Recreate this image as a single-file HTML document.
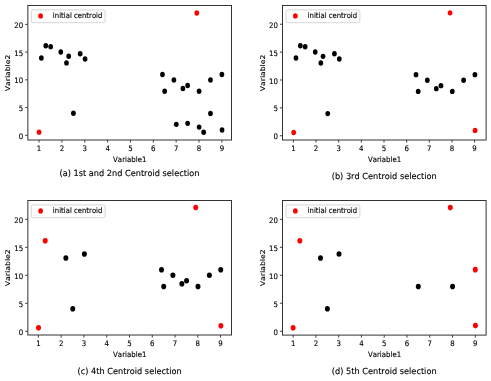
<!DOCTYPE html>
<html><head><meta charset="utf-8"><style>
html,body{margin:0;padding:0;background:#fff;}
body{width:491px;height:381px;overflow:hidden;}
svg{display:block;font-kerning:none;text-rendering:geometricPrecision;filter:blur(0.3px);}
.t{stroke:#000;stroke-width:0.75;}
.fr{fill:none;stroke:#333;stroke-width:1;}
.tl{font-family:"DejaVu Sans",sans-serif;font-size:7.0px;fill:#000;stroke:#000;stroke-width:0.12px;}
.vl{font-family:"DejaVu Sans",sans-serif;font-size:6.6px;fill:#000;stroke:#000;stroke-width:0.12px;}
.cap{font-family:"DejaVu Sans",sans-serif;font-size:8.2px;fill:#000;stroke:#000;stroke-width:0.12px;}
</style></head><body>
<svg width="491" height="381" viewBox="0 0 491 381">
<rect width="491" height="381" fill="#fff"/>
<line x1="39.07" y1="139.95" x2="39.07" y2="142.55" class="t"/><text class="tl" transform="translate(39.07,151.2) scale(1,1.084)" text-anchor="middle">1</text><line x1="61.92" y1="139.95" x2="61.92" y2="142.55" class="t"/><text class="tl" transform="translate(61.92,151.2) scale(1,1.084)" text-anchor="middle">2</text><line x1="84.77" y1="139.95" x2="84.77" y2="142.55" class="t"/><text class="tl" transform="translate(84.77,151.2) scale(1,1.084)" text-anchor="middle">3</text><line x1="107.62" y1="139.95" x2="107.62" y2="142.55" class="t"/><text class="tl" transform="translate(107.62,151.2) scale(1,1.084)" text-anchor="middle">4</text><line x1="130.47" y1="139.95" x2="130.47" y2="142.55" class="t"/><text class="tl" transform="translate(130.47,151.2) scale(1,1.084)" text-anchor="middle">5</text><line x1="153.32" y1="139.95" x2="153.32" y2="142.55" class="t"/><text class="tl" transform="translate(153.32,151.2) scale(1,1.084)" text-anchor="middle">6</text><line x1="176.17" y1="139.95" x2="176.17" y2="142.55" class="t"/><text class="tl" transform="translate(176.17,151.2) scale(1,1.084)" text-anchor="middle">7</text><line x1="199.02" y1="139.95" x2="199.02" y2="142.55" class="t"/><text class="tl" transform="translate(199.02,151.2) scale(1,1.084)" text-anchor="middle">8</text><line x1="221.87" y1="139.95" x2="221.87" y2="142.55" class="t"/><text class="tl" transform="translate(221.87,151.2) scale(1,1.084)" text-anchor="middle">9</text><line x1="25.15" y1="135.33" x2="27.75" y2="135.33" class="t"/><text class="tl" transform="translate(23.2,138.93) scale(1,1.084)" text-anchor="end">0</text><line x1="25.15" y1="107.59" x2="27.75" y2="107.59" class="t"/><text class="tl" transform="translate(23.2,111.19) scale(1,1.084)" text-anchor="end">5</text><line x1="25.15" y1="79.84" x2="27.75" y2="79.84" class="t"/><text class="tl" transform="translate(23.2,83.44) scale(1,1.084)" text-anchor="end">10</text><line x1="25.15" y1="52.1" x2="27.75" y2="52.1" class="t"/><text class="tl" transform="translate(23.2,55.7) scale(1,1.084)" text-anchor="end">15</text><line x1="25.15" y1="24.35" x2="27.75" y2="24.35" class="t"/><text class="tl" transform="translate(23.2,27.95) scale(1,1.084)" text-anchor="end">20</text><ellipse cx="41.36" cy="57.97" rx="2.35" ry="2.7" fill="#000"/><ellipse cx="45.77" cy="45.8" rx="2.35" ry="2.7" fill="#000"/><ellipse cx="50.63" cy="46.81" rx="2.35" ry="2.7" fill="#000"/><ellipse cx="60.78" cy="51.98" rx="2.35" ry="2.7" fill="#000"/><ellipse cx="68.7" cy="56.29" rx="2.35" ry="2.7" fill="#000"/><ellipse cx="66.49" cy="62.91" rx="2.35" ry="2.7" fill="#000"/><ellipse cx="80.17" cy="53.77" rx="2.35" ry="2.7" fill="#000"/><ellipse cx="85.08" cy="59" rx="2.35" ry="2.7" fill="#000"/><ellipse cx="73.41" cy="113.3" rx="2.35" ry="2.7" fill="#000"/><ellipse cx="162.47" cy="74.53" rx="2.35" ry="2.7" fill="#000"/><ellipse cx="173.88" cy="80.04" rx="2.35" ry="2.7" fill="#000"/><ellipse cx="164.68" cy="91.21" rx="2.35" ry="2.7" fill="#000"/><ellipse cx="182.93" cy="88.46" rx="2.35" ry="2.7" fill="#000"/><ellipse cx="187.65" cy="85.47" rx="2.35" ry="2.7" fill="#000"/><ellipse cx="199.08" cy="91.21" rx="2.35" ry="2.7" fill="#000"/><ellipse cx="210.49" cy="80.04" rx="2.35" ry="2.7" fill="#000"/><ellipse cx="221.9" cy="74.53" rx="2.35" ry="2.7" fill="#000"/><ellipse cx="176.29" cy="124.36" rx="2.35" ry="2.7" fill="#000"/><ellipse cx="187.62" cy="123.34" rx="2.35" ry="2.7" fill="#000"/><ellipse cx="199.11" cy="127.12" rx="2.35" ry="2.7" fill="#000"/><ellipse cx="203.67" cy="132.23" rx="2.35" ry="2.7" fill="#000"/><ellipse cx="210.47" cy="113.48" rx="2.35" ry="2.7" fill="#000"/><ellipse cx="222.05" cy="130.02" rx="2.35" ry="2.7" fill="#000"/><ellipse cx="39.06" cy="132.15" rx="2.35" ry="2.7" fill="#f00"/><ellipse cx="196.81" cy="12.97" rx="2.35" ry="2.7" fill="#f00"/><rect x="31.3" y="9.9" width="73.8" height="12.8" rx="1.6" fill="#fff" stroke="#cccccc" stroke-width="0.8"/><ellipse cx="40.6" cy="15.9" rx="2.35" ry="2.7" fill="#f00"/><text class="tl" transform="translate(52.85,18.1) scale(0.984,1.084)">initial centroid</text><rect x="27.85" y="5.5" width="203.65" height="134.5" class="fr"/><text class="tl" transform="translate(129.75,161.5) scale(1,1.084)" text-anchor="middle">Variable1</text><text class="vl" transform="translate(10.1,72.92) rotate(-90) scale(1.165,1)" text-anchor="middle">Variable2</text><text class="cap" transform="translate(129.4,175.8) scale(1,1.03)" text-anchor="middle">(a) 1st and 2nd Centroid selection</text>
<line x1="293.39" y1="139.95" x2="293.39" y2="142.55" class="t"/><text class="tl" transform="translate(293.39,151.2) scale(1,1.084)" text-anchor="middle">1</text><line x1="316.04" y1="139.95" x2="316.04" y2="142.55" class="t"/><text class="tl" transform="translate(316.04,151.2) scale(1,1.084)" text-anchor="middle">2</text><line x1="338.69" y1="139.95" x2="338.69" y2="142.55" class="t"/><text class="tl" transform="translate(338.69,151.2) scale(1,1.084)" text-anchor="middle">3</text><line x1="361.34" y1="139.95" x2="361.34" y2="142.55" class="t"/><text class="tl" transform="translate(361.34,151.2) scale(1,1.084)" text-anchor="middle">4</text><line x1="383.99" y1="139.95" x2="383.99" y2="142.55" class="t"/><text class="tl" transform="translate(383.99,151.2) scale(1,1.084)" text-anchor="middle">5</text><line x1="406.64" y1="139.95" x2="406.64" y2="142.55" class="t"/><text class="tl" transform="translate(406.64,151.2) scale(1,1.084)" text-anchor="middle">6</text><line x1="429.29" y1="139.95" x2="429.29" y2="142.55" class="t"/><text class="tl" transform="translate(429.29,151.2) scale(1,1.084)" text-anchor="middle">7</text><line x1="451.94" y1="139.95" x2="451.94" y2="142.55" class="t"/><text class="tl" transform="translate(451.94,151.2) scale(1,1.084)" text-anchor="middle">8</text><line x1="474.59" y1="139.95" x2="474.59" y2="142.55" class="t"/><text class="tl" transform="translate(474.59,151.2) scale(1,1.084)" text-anchor="middle">9</text><line x1="279.9" y1="135.72" x2="282.5" y2="135.72" class="t"/><text class="tl" transform="translate(277.95,139.32) scale(1,1.084)" text-anchor="end">0</text><line x1="279.9" y1="107.85" x2="282.5" y2="107.85" class="t"/><text class="tl" transform="translate(277.95,111.45) scale(1,1.084)" text-anchor="end">5</text><line x1="279.9" y1="79.99" x2="282.5" y2="79.99" class="t"/><text class="tl" transform="translate(277.95,83.59) scale(1,1.084)" text-anchor="end">10</text><line x1="279.9" y1="52.12" x2="282.5" y2="52.12" class="t"/><text class="tl" transform="translate(277.95,55.73) scale(1,1.084)" text-anchor="end">15</text><line x1="279.9" y1="24.26" x2="282.5" y2="24.26" class="t"/><text class="tl" transform="translate(277.95,27.86) scale(1,1.084)" text-anchor="end">20</text><ellipse cx="295.96" cy="58.03" rx="2.35" ry="2.7" fill="#000"/><ellipse cx="300.33" cy="45.8" rx="2.35" ry="2.7" fill="#000"/><ellipse cx="305.15" cy="46.82" rx="2.35" ry="2.7" fill="#000"/><ellipse cx="315.21" cy="52.01" rx="2.35" ry="2.7" fill="#000"/><ellipse cx="323.06" cy="56.34" rx="2.35" ry="2.7" fill="#000"/><ellipse cx="320.87" cy="62.99" rx="2.35" ry="2.7" fill="#000"/><ellipse cx="334.43" cy="53.81" rx="2.35" ry="2.7" fill="#000"/><ellipse cx="339.3" cy="59.06" rx="2.35" ry="2.7" fill="#000"/><ellipse cx="327.73" cy="113.59" rx="2.35" ry="2.7" fill="#000"/><ellipse cx="416.01" cy="74.66" rx="2.35" ry="2.7" fill="#000"/><ellipse cx="427.32" cy="80.19" rx="2.35" ry="2.7" fill="#000"/><ellipse cx="418.2" cy="91.41" rx="2.35" ry="2.7" fill="#000"/><ellipse cx="436.29" cy="88.65" rx="2.35" ry="2.7" fill="#000"/><ellipse cx="440.97" cy="85.64" rx="2.35" ry="2.7" fill="#000"/><ellipse cx="452.3" cy="91.41" rx="2.35" ry="2.7" fill="#000"/><ellipse cx="463.61" cy="80.19" rx="2.35" ry="2.7" fill="#000"/><ellipse cx="474.92" cy="74.66" rx="2.35" ry="2.7" fill="#000"/><ellipse cx="293.68" cy="132.53" rx="2.35" ry="2.7" fill="#f00"/><ellipse cx="450.05" cy="12.83" rx="2.35" ry="2.7" fill="#f00"/><ellipse cx="475.07" cy="130.39" rx="2.35" ry="2.7" fill="#f00"/><rect x="286.05" y="9.9" width="73.8" height="12.8" rx="1.6" fill="#fff" stroke="#cccccc" stroke-width="0.8"/><ellipse cx="295.35" cy="15.9" rx="2.35" ry="2.7" fill="#f00"/><text class="tl" transform="translate(307.6,18.1) scale(0.984,1.084)">initial centroid</text><rect x="282.5" y="5.5" width="203.6" height="134.5" class="fr"/><text class="tl" transform="translate(384.55,161.5) scale(1,1.084)" text-anchor="middle">Variable1</text><text class="vl" transform="translate(264.85,72.92) rotate(-90) scale(1.165,1)" text-anchor="middle">Variable2</text><text class="cap" transform="translate(384.2,179) scale(1,1.03)" text-anchor="middle">(b) 3rd Centroid selection</text>
<line x1="38.39" y1="335" x2="38.39" y2="337.6" class="t"/><text class="tl" transform="translate(38.39,346.25) scale(1,1.084)" text-anchor="middle">1</text><line x1="61.16" y1="335" x2="61.16" y2="337.6" class="t"/><text class="tl" transform="translate(61.16,346.25) scale(1,1.084)" text-anchor="middle">2</text><line x1="83.93" y1="335" x2="83.93" y2="337.6" class="t"/><text class="tl" transform="translate(83.93,346.25) scale(1,1.084)" text-anchor="middle">3</text><line x1="106.7" y1="335" x2="106.7" y2="337.6" class="t"/><text class="tl" transform="translate(106.7,346.25) scale(1,1.084)" text-anchor="middle">4</text><line x1="129.47" y1="335" x2="129.47" y2="337.6" class="t"/><text class="tl" transform="translate(129.47,346.25) scale(1,1.084)" text-anchor="middle">5</text><line x1="152.24" y1="335" x2="152.24" y2="337.6" class="t"/><text class="tl" transform="translate(152.24,346.25) scale(1,1.084)" text-anchor="middle">6</text><line x1="175.01" y1="335" x2="175.01" y2="337.6" class="t"/><text class="tl" transform="translate(175.01,346.25) scale(1,1.084)" text-anchor="middle">7</text><line x1="197.78" y1="335" x2="197.78" y2="337.6" class="t"/><text class="tl" transform="translate(197.78,346.25) scale(1,1.084)" text-anchor="middle">8</text><line x1="220.55" y1="335" x2="220.55" y2="337.6" class="t"/><text class="tl" transform="translate(220.55,346.25) scale(1,1.084)" text-anchor="middle">9</text><line x1="25.15" y1="331.3" x2="27.75" y2="331.3" class="t"/><text class="tl" transform="translate(23.2,334.9) scale(1,1.084)" text-anchor="end">0</text><line x1="25.15" y1="303.31" x2="27.75" y2="303.31" class="t"/><text class="tl" transform="translate(23.2,306.91) scale(1,1.084)" text-anchor="end">5</text><line x1="25.15" y1="275.32" x2="27.75" y2="275.32" class="t"/><text class="tl" transform="translate(23.2,278.92) scale(1,1.084)" text-anchor="end">10</text><line x1="25.15" y1="247.33" x2="27.75" y2="247.33" class="t"/><text class="tl" transform="translate(23.2,250.93) scale(1,1.084)" text-anchor="end">15</text><line x1="25.15" y1="219.34" x2="27.75" y2="219.34" class="t"/><text class="tl" transform="translate(23.2,222.94) scale(1,1.084)" text-anchor="end">20</text><ellipse cx="65.86" cy="257.99" rx="2.48" ry="2.8" fill="#000"/><ellipse cx="84.39" cy="254.04" rx="2.48" ry="2.8" fill="#000"/><ellipse cx="72.76" cy="308.82" rx="2.48" ry="2.8" fill="#000"/><ellipse cx="161.51" cy="269.71" rx="2.48" ry="2.8" fill="#000"/><ellipse cx="172.88" cy="275.27" rx="2.48" ry="2.8" fill="#000"/><ellipse cx="163.71" cy="286.54" rx="2.48" ry="2.8" fill="#000"/><ellipse cx="181.9" cy="283.76" rx="2.48" ry="2.8" fill="#000"/><ellipse cx="186.6" cy="280.75" rx="2.48" ry="2.8" fill="#000"/><ellipse cx="197.99" cy="286.54" rx="2.48" ry="2.8" fill="#000"/><ellipse cx="209.36" cy="275.27" rx="2.48" ry="2.8" fill="#000"/><ellipse cx="220.73" cy="269.71" rx="2.48" ry="2.8" fill="#000"/><ellipse cx="38.53" cy="327.84" rx="2.48" ry="2.8" fill="#f00"/><ellipse cx="45.22" cy="240.73" rx="2.48" ry="2.8" fill="#f00"/><ellipse cx="195.73" cy="207.61" rx="2.48" ry="2.8" fill="#f00"/><ellipse cx="220.88" cy="325.69" rx="2.48" ry="2.8" fill="#f00"/><rect x="31.3" y="204.9" width="73.8" height="12.8" rx="1.6" fill="#fff" stroke="#cccccc" stroke-width="0.8"/><ellipse cx="40.6" cy="210.9" rx="2.35" ry="2.7" fill="#f00"/><text class="tl" transform="translate(52.85,213.1) scale(0.984,1.084)">initial centroid</text><rect x="27.85" y="200.5" width="203.65" height="134.5" class="fr"/><text class="tl" transform="translate(129.75,356.55) scale(1,1.084)" text-anchor="middle">Variable1</text><text class="vl" transform="translate(10.1,267.75) rotate(-90) scale(1.18,1)" text-anchor="middle">Variable2</text><text class="cap" transform="translate(129.6,374.1) scale(1,1.03)" text-anchor="middle">(c) 4th Centroid selection</text>
<line x1="293.15" y1="335.05" x2="293.15" y2="337.65" class="t"/><text class="tl" transform="translate(293.15,346.3) scale(1,1.084)" text-anchor="middle">1</text><line x1="315.91" y1="335.05" x2="315.91" y2="337.65" class="t"/><text class="tl" transform="translate(315.91,346.3) scale(1,1.084)" text-anchor="middle">2</text><line x1="338.68" y1="335.05" x2="338.68" y2="337.65" class="t"/><text class="tl" transform="translate(338.68,346.3) scale(1,1.084)" text-anchor="middle">3</text><line x1="361.44" y1="335.05" x2="361.44" y2="337.65" class="t"/><text class="tl" transform="translate(361.44,346.3) scale(1,1.084)" text-anchor="middle">4</text><line x1="384.21" y1="335.05" x2="384.21" y2="337.65" class="t"/><text class="tl" transform="translate(384.21,346.3) scale(1,1.084)" text-anchor="middle">5</text><line x1="406.97" y1="335.05" x2="406.97" y2="337.65" class="t"/><text class="tl" transform="translate(406.97,346.3) scale(1,1.084)" text-anchor="middle">6</text><line x1="429.74" y1="335.05" x2="429.74" y2="337.65" class="t"/><text class="tl" transform="translate(429.74,346.3) scale(1,1.084)" text-anchor="middle">7</text><line x1="452.5" y1="335.05" x2="452.5" y2="337.65" class="t"/><text class="tl" transform="translate(452.5,346.3) scale(1,1.084)" text-anchor="middle">8</text><line x1="475.27" y1="335.05" x2="475.27" y2="337.65" class="t"/><text class="tl" transform="translate(475.27,346.3) scale(1,1.084)" text-anchor="middle">9</text><line x1="279.9" y1="331.19" x2="282.5" y2="331.19" class="t"/><text class="tl" transform="translate(277.95,334.79) scale(1,1.084)" text-anchor="end">0</text><line x1="279.9" y1="303.23" x2="282.5" y2="303.23" class="t"/><text class="tl" transform="translate(277.95,306.83) scale(1,1.084)" text-anchor="end">5</text><line x1="279.9" y1="275.26" x2="282.5" y2="275.26" class="t"/><text class="tl" transform="translate(277.95,278.86) scale(1,1.084)" text-anchor="end">10</text><line x1="279.9" y1="247.3" x2="282.5" y2="247.3" class="t"/><text class="tl" transform="translate(277.95,250.9) scale(1,1.084)" text-anchor="end">15</text><line x1="279.9" y1="219.33" x2="282.5" y2="219.33" class="t"/><text class="tl" transform="translate(277.95,222.93) scale(1,1.084)" text-anchor="end">20</text><ellipse cx="320.47" cy="257.94" rx="2.48" ry="2.8" fill="#000"/><ellipse cx="338.99" cy="254" rx="2.48" ry="2.8" fill="#000"/><ellipse cx="327.36" cy="308.73" rx="2.48" ry="2.8" fill="#000"/><ellipse cx="418.29" cy="286.47" rx="2.48" ry="2.8" fill="#000"/><ellipse cx="452.56" cy="286.47" rx="2.48" ry="2.8" fill="#000"/><ellipse cx="293.14" cy="327.73" rx="2.48" ry="2.8" fill="#f00"/><ellipse cx="299.83" cy="240.7" rx="2.48" ry="2.8" fill="#f00"/><ellipse cx="450.3" cy="207.61" rx="2.48" ry="2.8" fill="#f00"/><ellipse cx="475.3" cy="269.66" rx="2.48" ry="2.8" fill="#f00"/><ellipse cx="475.45" cy="325.59" rx="2.48" ry="2.8" fill="#f00"/><rect x="286.05" y="204.9" width="73.8" height="12.8" rx="1.6" fill="#fff" stroke="#cccccc" stroke-width="0.8"/><ellipse cx="295.35" cy="210.9" rx="2.35" ry="2.7" fill="#f00"/><text class="tl" transform="translate(307.6,213.1) scale(0.984,1.084)">initial centroid</text><rect x="282.5" y="200.5" width="203.6" height="134.6" class="fr"/><text class="tl" transform="translate(384.55,356.6) scale(1,1.084)" text-anchor="middle">Variable1</text><text class="vl" transform="translate(264.85,267.8) rotate(-90) scale(1.18,1)" text-anchor="middle">Variable2</text><text class="cap" transform="translate(384.2,373.5) scale(1,1.03)" text-anchor="middle">(d) 5th Centroid selection</text>
</svg>
</body></html>
